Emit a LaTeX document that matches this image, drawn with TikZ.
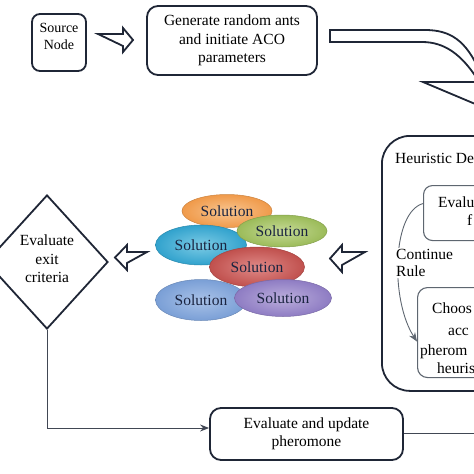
\documentclass[tikz,border=0pt]{standalone}
\usepackage{fontspec}
\setmainfont{Liberation Serif}
\usetikzlibrary{shapes.geometric,arrows.meta}
\definecolor{ink}{HTML}{1F2636}
\definecolor{soft}{HTML}{5E6670}
\definecolor{soltext}{HTML}{1A2440}
\definecolor{orB}{HTML}{F09A4A}\definecolor{orL}{HTML}{F8C590}
\definecolor{grB}{HTML}{9BBB59}\definecolor{grL}{HTML}{C6DA96}
\definecolor{teB}{HTML}{31A2CD}\definecolor{teL}{HTML}{7CCBE5}
\definecolor{reB}{HTML}{C0504D}\definecolor{reL}{HTML}{E08A88}
\definecolor{lbB}{HTML}{7A9FD6}\definecolor{lbL}{HTML}{A9C2E8}
\definecolor{puB}{HTML}{8E7CC3}\definecolor{puL}{HTML}{BBAEDC}
\begin{document}
\begin{tikzpicture}[x=1pt,y=-1pt,
  every node/.style={font=\fontsize{15.5}{18.5}\selectfont, text=black},
  box/.style={draw=ink, line width=1.8pt, rounded corners=11pt, fill=white, inner sep=0pt, align=center},
  innerbox/.style={draw=soft, line width=1.1pt, rounded corners=9pt, inner sep=0pt, anchor=north west},
  frag/.style={anchor=base west, inner sep=0pt},
  hollow/.style={draw=ink, line width=1.8pt, fill=white, line join=miter},
  conn/.style={draw=ink!85, line width=1pt},
  tip/.style={-{Stealth[length=9pt,width=7pt]}},
  sol/.style={ellipse, inner sep=0pt, text=soltext, line width=0.5pt},
]
\useasboundingbox (0,0) rectangle (474,474);
\clip (0,0) rectangle (474,474);

% top row
\node[box, rounded corners=8pt, minimum width=54pt, minimum height=57pt] (src) at (59,42.5) {};
\node[align=center, inner sep=0pt, font=\fontsize{14}{17}\selectfont] (srct) at (59,36) {Source\\Node};
\draw[hollow] (98,34) -- (123,34) -- (123,28) -- (133,40) -- (123,52) -- (123,46) -- cycle;
\node[box, minimum width=170pt, minimum height=69pt] (gen) at (232,40.5) {Generate random ants\\and initiate ACO\\parameters};

% big curved hollow arrow (clipped at right edge)
\draw[draw=ink, line width=1.8pt, line join=miter] (480,72) .. controls (466,40) and (450,30) .. (425,30) -- (330,30) -- (330,42) -- (422,42) .. controls (445,42) and (462,55) .. (478,80);
\draw[draw=ink, line width=1.8pt, line join=miter] (480,82) -- (423,82) -- (480,106);

% heuristic decision box
\node[draw=ink, line width=1.8pt, rounded corners=28pt, anchor=north west, minimum width=200pt, minimum height=255pt, inner sep=0pt] (heur) at (381,135) {};
\node[frag] (heurt) at (395,163) {Heuristic De};
\node[innerbox, minimum width=100pt, minimum height=55pt] (ev) at (423,185) {};
\node[frag] (evt1) at (438,207) {Evalu};
\node[frag] (evt2) at (467,225) {f};
\node[innerbox, rounded corners=10pt, minimum width=100pt, minimum height=90pt] (ch) at (417,287) {};
\node[frag] (cht1) at (432,313) {Choos};
\node[frag] (cht2) at (448,335) {acc};
\node[frag] (cht3) at (420,355) {pherom};
\node[frag] (cht4) at (437,373) {heuris};
\draw[draw=soft, line width=0.9pt, tip] ([yshift=9.5pt]ev.west) .. controls (392,212) and (390,300) .. ([yshift=-9pt]ch.west);
\node[anchor=north west, align=left, fill=white, inner sep=1pt, font=\fontsize{15.5}{17}\selectfont] (rule) at (395,248) {Continue\\Rule};

% hollow arrow heuristic -> solutions
\draw[hollow] (365,252) -- (342,252) -- (342,245) -- (330,258.5) -- (342,272) -- (342,265) -- cycle;

% solutions
\node[sol, minimum width=90pt, minimum height=33pt, inner color=orL, outer color=orB, draw=orB!85!black] (s1) at (227,211) {Solution};
\node[sol, minimum width=91pt, minimum height=40pt, inner color=teL, outer color=teB, draw=teB!85!black] (s3) at (201,245) {Solution};
\node[sol, minimum width=90pt, minimum height=32pt, inner color=grL, outer color=grB, draw=grB!85!black] (s2) at (282,231) {Solution};
\node[sol, minimum width=95pt, minimum height=40pt, inner color=reL, outer color=reB, draw=reB!85!black] (s4) at (257,267) {Solution};
\node[sol, minimum width=91pt, minimum height=41pt, inner color=lbL, outer color=lbB, draw=lbB!85!black] (s5) at (201,300) {Solution};
\node[sol, minimum width=97pt, minimum height=37pt, inner color=puL, outer color=puB, draw=puB!85!black] (s6) at (283,298) {Solution};

% hollow arrow solutions -> exit
\draw[hollow] (147,252) -- (127,252) -- (127,245) -- (115,257.5) -- (127,270) -- (127,263) -- cycle;

% exit criteria diamond
\node[diamond, draw=ink, line width=1.8pt, minimum width=122pt, minimum height=134pt, inner sep=0pt, fill=white] (exit) at (47,262) {};
\node[align=center, inner sep=0pt] (exitt) at (47,259) {Evaluate\\exit\\criteria};

% update pheromone
\node[box, minimum width=193pt, minimum height=52pt] (upd) at (306.5,434) {Evaluate and update\\pheromone};
\draw[conn, tip] (exit.south) |- ([yshift=6pt]upd.west);
\coordinate (rend) at (480,433);
\draw[conn] (upd.east |- rend) -- (rend);
\end{tikzpicture}
\end{document}
